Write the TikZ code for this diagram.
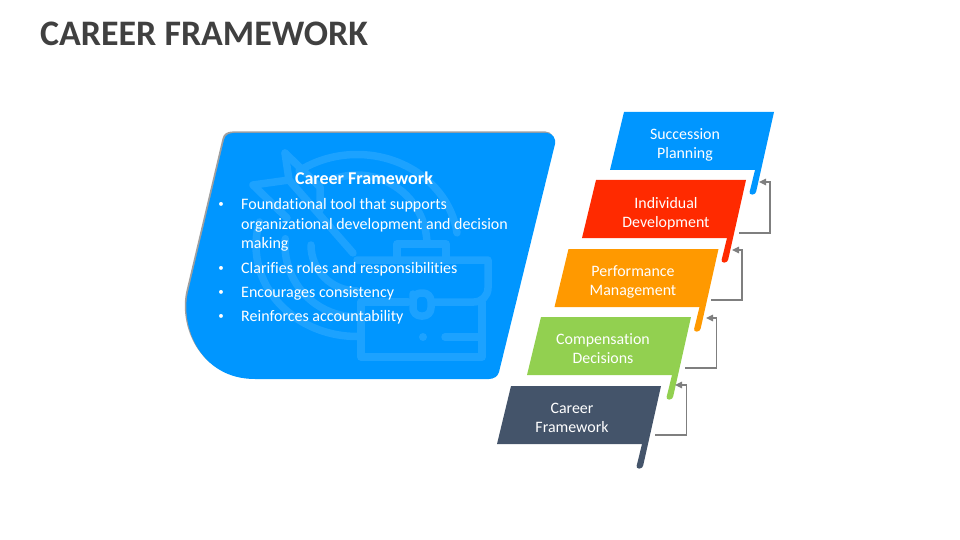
\documentclass[tikz,border=0pt]{standalone}
\usepackage{fontspec}
\setmainfont[Ligatures=NoCommon]{Carlito}
\usetikzlibrary{arrows.meta}
\definecolor{stepblue}{HTML}{0096FF}
\definecolor{stepred}{HTML}{FF2A00}
\definecolor{steporange}{HTML}{FF9900}
\definecolor{stepgreen}{HTML}{92D050}
\definecolor{stepslate}{HTML}{44546A}
\definecolor{iconblue}{HTML}{1CA2FF}
\definecolor{titlegrey}{HTML}{404040}
\definecolor{linkgrey}{HTML}{7F7F7F}
\def\panelshape{(234,133) -- (547,133) .. controls (553,133) and (556,139) .. (555,144)
    -- (499,372) .. controls (498,376) and (494,379) .. (489,379) -- (255,379)
    .. controls (200,379) and (180,326) .. (188,292) -- (224,140)
    .. controls (225,135) and (229,133) .. (234,133) -- cycle}
\tikzset{
    iconline/.style={draw=iconblue,line width=7.5pt,line cap=round,line join=round},
    link/.style={draw=linkgrey,line width=1.2pt,-{Triangle[length=7pt,width=6.5pt]}},
    steplabel/.style={text=white,align=center,font=\fontsize{15.9}{19}\selectfont},
    bodyline/.style={text=white,anchor=base west,inner sep=0pt,font=\fontsize{16}{19}\selectfont},
    bulletmark/.style={text=white,anchor=base,inner sep=0pt,font=\fontsize{11}{19}\selectfont}
}
\begin{document}
\begin{tikzpicture}[x=1pt,y=-1pt]
    \useasboundingbox (0,0) rectangle (960,540);
    \node[anchor=base west,inner sep=0pt,text=titlegrey,font=\fontsize{35.9}{40}\bfseries\selectfont] (title) at (40,46) {CAREER FRAMEWORK};
    % panel
    \fill[gray!75,shift={(-1.5,-1.5)}] \panelshape;
    \fill[stepblue] \panelshape;
    \begin{scope}
        \clip \panelshape;
        \draw[iconline] (357,245.5) ++(-125:101 and 91) arc[start angle=-125,end angle=-8,x radius=101,y radius=91];
        \draw[iconline] (357,245.5) ++(-165:101 and 91) arc[start angle=-165,end angle=-270,x radius=101,y radius=91];
        \draw[iconline] (357,245) ++(-110:70) arc[start angle=-110,end angle=-3,radius=70];
        \draw[iconline] (357,245) ++(-175:72) arc[start angle=-175,end angle=-270,radius=72];
        \draw[iconline] (357,245) ++(-180:46) arc[start angle=-180,end angle=-270,radius=46];
        \draw[iconline] (285,153) -- (289,180) -- (253,185) -- (287,218);
        \draw[iconline] (285,153) -- (320,187) -- (320,210);
        \draw[iconline] (289,180) -- (353,253);
        % briefcase
        \draw[iconline] (357,260) -- (488,260) -- (488,288) arc[start angle=0,end angle=90,radius=14] -- (434,302);
        \draw[iconline] (361,302) -- (408,302);
        \draw[iconline] (361,302) -- (361,357) -- (482,357) -- (482,302);
        \draw[iconline] (397,260) -- (397,244) -- (446,244) -- (446,260);
        \draw[iconline,rounded corners=8pt] (413,302) -- (413,293) -- (431,293) -- (431,316) -- (413,316) -- cycle;
        \draw[iconline] (445,337) -- (482,337);
        \fill[iconblue] (423,337) circle (4);
    \end{scope}
    \node[text=white,font=\fontsize{18}{20}\bfseries\selectfont,inner sep=0pt] (head) at (364,178) {Career Framework};
    \foreach \n/\y/\t in {1/209/Foundational tool that supports,
        2/229/organizational development and decision,
        3/248/making,
        4/273/Clarifies roles and responsibilities,
        5/297/Encourages consistency,
        6/321/Reinforces accountability}
        \node[bodyline] (line\n) at (241,\y) {\t};
    \foreach \n/\y in {1/207.5,2/271.5,3/295.5,4/319.5}
        \node[bulletmark] (dot\n) at (221,\y) {\textbullet};
    % steps
    \foreach \n/\x/\y/\col/\tx/\ty/\t in {
        1/774/112/stepblue/685/144.5/Succession\\Planning,
        2/746/180/stepred/666/213.5/Individual\\Development,
        3/718.5/249/steporange/633/281.5/Performance\\Management,
        4/691/317/stepgreen/603/349/Compensation\\Decisions,
        5/661/386/stepslate/572/418/Career\\Framework}
    {
        \fill[\col] (\x,\y) -- +(-150,0) -- +(-164,58) -- +(-19,58)
            [rounded corners=2.8pt] -- +(-25,82.5) -- +(-18.5,82.5) [sharp corners] -- cycle;
        \node[steplabel] (step\n) at (\tx,\ty) {\t};
    }
    % links
    \foreach \n/\xa/\ya/\xb/\yb/\xc in {
        2/739/233/759/182/770,
        3/711/300/732/250/742,
        4/685/368/706/318/716.5,
        5/655/435/675/385/686.5}
    {
        \coordinate (out\n) at (\xa,\ya);
        \coordinate (in\n) at (\xb,\yb);
        \draw[link] (out\n) -- (\xc,\ya) -- (\xc,\yb) -- (in\n);
    }
\end{tikzpicture}
\end{document}
